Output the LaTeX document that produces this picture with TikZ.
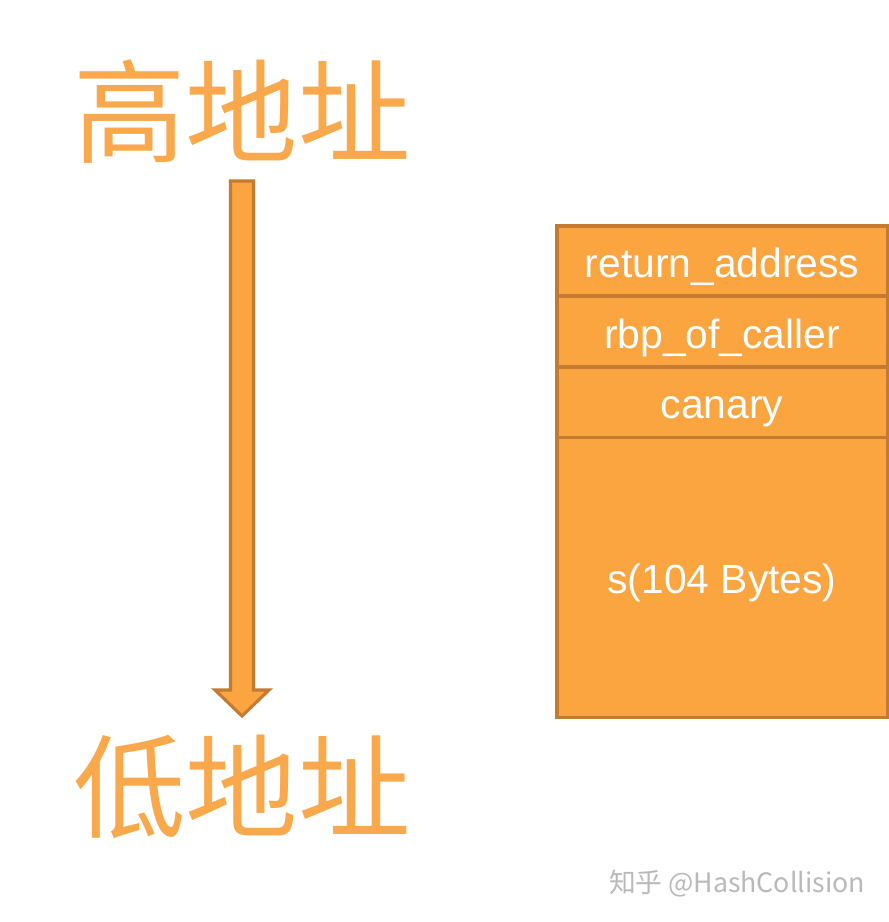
\documentclass[tikz,border=0pt]{standalone}
\usepackage{fontspec}
\setmainfont{Liberation Sans}
\newfontfamily\cjk{Noto Sans CJK SC}
\usetikzlibrary{positioning,calc}
\definecolor{stackfill}{HTML}{FAA540}
\definecolor{stackline}{HTML}{C27B30}
\definecolor{addrtext}{HTML}{F9A84B}

\begin{document}
\begin{tikzpicture}[x=0.025cm, y=-0.025cm,
    addr/.style={text=addrtext, inner sep=0, font=\cjk\fontsize{80}{80}\selectfont},
    slot/.style={draw=stackline, fill=stackfill, line width=2.2pt, text=white,
      minimum width=8.25cm, outer sep=0, inner sep=0,
      text height=27.5pt, text depth=3.8pt,
      font=\fontsize{29}{30}\selectfont}]
  \useasboundingbox (0,0) rectangle (889,922);
  \node [addr] (high) at (242,112) {高地址};
  \node [addr] (low)  at (242,787) {低地址};
  \coordinate (top) at (242,181);
  \coordinate (tip) at (242,716);
  \draw [draw=stackline, fill=stackfill, line width=2.2pt]
    ($(top)+(-11.5,0)$) -- ($(tip)+(-11.5,-26)$) -- ($(tip)+(-27,-26)$) -- (tip)
    -- ($(tip)+(27,-26)$) -- ($(tip)+(11.5,-26)$) -- ($(top)+(11.5,0)$) -- cycle;

  \node [slot, minimum height=1.75cm, anchor=north west] (ret) at (557,226) {return\_address};
  \node [slot, minimum height=1.775cm, below=0pt of ret] (rbp) {rbp\_of\_caller};
  \node [slot, minimum height=1.75cm, below=0pt of rbp] (canary) {canary};
  \node [slot, minimum height=7cm, below=0pt of canary] (buf) {s(104 Bytes)};

  \node [text=gray!55, font=\cjk\fontsize{19}{20}\selectfont] (mark) at (737,884)
    {知乎 @HashCollision};
\end{tikzpicture}
\end{document}
